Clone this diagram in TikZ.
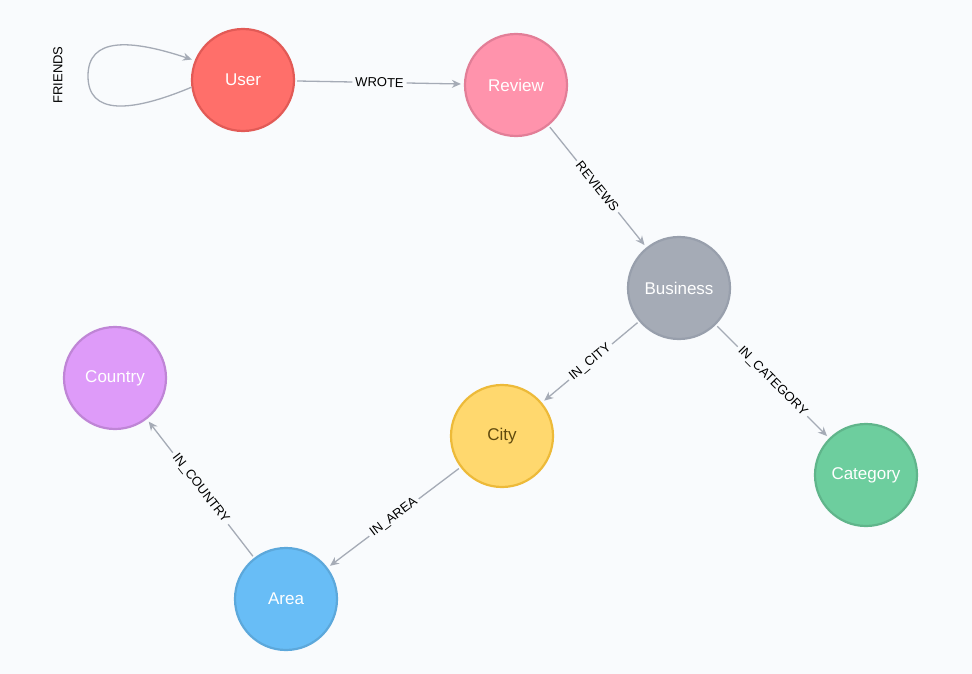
\documentclass[tikz,border=0pt]{standalone}
\usepackage{fontspec}
\setmainfont{Liberation Sans}
\usetikzlibrary{arrows.meta}
\definecolor{bg}{HTML}{F9FBFD}
\definecolor{edge}{HTML}{A5ABB6}
\tikzset{
 nd/.style={circle,minimum size=102pt,inner sep=0pt,line width=2.2pt,text=white,font=\fontsize{17}{20}\selectfont},
 rel/.style={draw=edge,line width=1.3pt,-{Stealth[length=9pt,width=8pt]},shorten >=3pt,shorten <=2pt},
 lbl/.style={midway,sloped,fill=bg,inner sep=3pt,font=\fontsize{13}{15}\selectfont,text=black}
}
\begin{document}
\begin{tikzpicture}[x=1pt,y=-1pt]
\fill[bg] (0,0) rectangle (972,674);
\useasboundingbox (0,0) rectangle (972,674);
\node[nd,fill={rgb,255:red,255;green,111;blue,106},draw={rgb,255:red,226;green,90;blue,86}] (user) at (243,80) {User};
\node[nd,fill={rgb,255:red,255;green,147;blue,172},draw={rgb,255:red,226;green,126;blue,151}] (review) at (516,85) {Review};
\node[nd,fill={rgb,255:red,165;green,171;blue,182},draw={rgb,255:red,152;green,159;blue,172}] (business) at (679,288) {Business};
\node[nd,fill={rgb,255:red,255;green,216;blue,110},draw={rgb,255:red,237;green,186;blue,57},text={rgb,255:red,96;green,74;blue,14}] (city) at (502,436) {City};
\node[nd,fill={rgb,255:red,109;green,206;blue,158},draw={rgb,255:red,96;green,181;blue,139}] (category) at (866,475) {Category};
\node[nd,fill={rgb,255:red,222;green,155;blue,249},draw={rgb,255:red,191;green,133;blue,214}] (country) at (115,378) {Country};
\node[nd,fill={rgb,255:red,104;green,189;blue,246},draw={rgb,255:red,92;green,168;blue,219}] (area) at (286,599) {Area};

\draw[rel] (user) -- node[lbl]{WROTE} (review);
\draw[rel] (review) -- node[lbl]{REVIEWS} (business);
\draw[rel] (business) -- node[lbl]{IN\_CITY} (city);
\draw[rel] (business) -- node[lbl]{IN\_CATEGORY} (category);
\draw[rel] (city) -- node[lbl]{IN\_AREA} (area);
\draw[rel] (area) -- node[lbl]{IN\_COUNTRY} (country);
\draw[draw=edge,line width=1.3pt,-{Stealth[length=9pt,width=8pt]},shorten >=3pt]
  (user.188) .. controls (130,113) and (88,115) .. (88,76)
  .. controls (88,37) and (130,39) .. (user.158);
\node[rotate=90,font=\fontsize{13}{15}\selectfont,fill=bg,inner sep=1pt] (fl) at (58,75) {FRIENDS};
\end{tikzpicture}
\end{document}
